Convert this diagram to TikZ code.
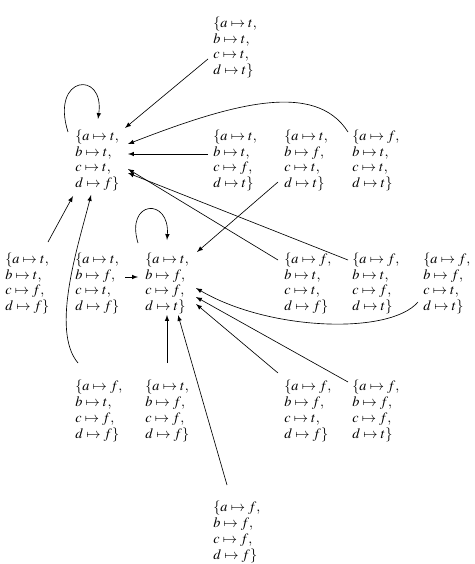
\documentclass[tikz,border=0pt]{standalone}
\usepackage{mathptmx}
\usetikzlibrary{calc,positioning,arrows}

\newcommand{\asgn}[4]{$\{a\mapsto #1,$\\$b\mapsto #2,$\\$c\mapsto #3,$\\$d\mapsto #4\}$}

\begin{document}
\begin{tikzpicture}[x=0.7pt,y=-0.7pt,>=latex,
  val/.style={anchor=west,align=left,inner sep=0pt,font=\fontsize{10}{11}\selectfont},
  edge/.style={->,line width=0.45pt}]
  \useasboundingbox (0,0) rectangle (474,564);
  % states
  \node[val] (tttt) at (213,47.5) {\asgn{t}{t}{t}{t}};
  \node[val] (tttf) at (75,160.5) {\asgn{t}{t}{t}{f}};
  \node[val] (ttft) at (213,160.5) {\asgn{t}{t}{f}{t}};
  \node[val] (tftt) at (284,160.5) {\asgn{t}{f}{t}{t}};
  \node[val] (fttt) at (352,160.5) {\asgn{f}{t}{t}{t}};

  \node[val] (ttff) at (5,283.5) {\asgn{t}{t}{f}{f}};
  \node[val] (tftf) at (75,283.5) {\asgn{t}{f}{t}{f}};
  \node[val] (tfft) at (145,283.5) {\asgn{t}{f}{f}{t}};
  \node[val] (fttf) at (284,283.5) {\asgn{f}{t}{t}{f}};
  \node[val] (ftft) at (352,283.5) {\asgn{f}{t}{f}{t}};
  \node[val] (fftt) at (423,283.5) {\asgn{f}{f}{t}{t}};

  \node[val] (ftff) at (75,411) {\asgn{f}{t}{f}{f}};
  \node[val] (tfff) at (145,411) {\asgn{t}{f}{f}{f}};
  \node[val] (fftf) at (284,411) {\asgn{f}{f}{t}{f}};
  \node[val] (ffft) at (352,411) {\asgn{f}{f}{f}{t}};

  \node[val] (ffff) at (213,532) {\asgn{f}{f}{f}{f}};

  % transitions into (tttf)
  \draw[edge] ($(tttf.west)+(-7,-28.5)$) .. controls +(-18,-57) and +(7,-49) .. ($(tttf.west)+(23,-41.5)$);
  \draw[edge] ($(tttt.west)+(-5,11.5)$) -- ($(tttf.west)+(50,-32.5)$);
  \draw[edge] ($(fttt.west)+(-4,-28.5)$) .. controls +(-33,-52) and +(103,-40) .. ($(tttf.west)+(53,-16.5)$);
  \draw[edge] ($(ttft.west)+(-5,-6.5)$) -- ($(tttf.west)+(53,-6.5)$);
  \draw[edge] ($(fttf.west)+(-6,-23.5)$) -- ($(tttf.west)+(53,8.5)$);
  \draw[edge] ($(ftft.west)+(-4,-23.5)$) -- ($(tttf.west)+(53,12.5)$);
  \draw[edge] ($(ttff.west)+(43,-41.5)$) -- ($(tttf.west)+(-2,35.5)$);
  \draw[edge] ($(ftff.west)+(3,-48)$) .. controls +(-28,-33) and +(-12,48) .. ($(tttf.west)+(16,34.5)$);

  % transitions into (tfft)
  \draw[edge] ($(tfft.west)+(-7,-40.5)$) .. controls +(-13,-43) and +(3,-43) .. ($(tfft.west)+(22,-43.5)$);
  \draw[edge] ($(tftt.west)+(-6,21.5)$) -- ($(tfft.west)+(52,-31.5)$);
  \draw[edge] ($(tftf.west)+(50,-6.5)$) -- ($(tfft.west)+(-7,-6.5)$);
  \draw[edge] ($(fftt.west)+(-5,18.5)$) .. controls +(-28,33) and +(73,43) .. ($(tfft.west)+(51,4.5)$);
  \draw[edge] ($(ffft.west)+(-4,-29)$) -- ($(tfft.west)+(51,13.5)$);
  \draw[edge] ($(fftf.west)+(-6,-38)$) -- ($(tfft.west)+(51,20.5)$);
  \draw[edge] ($(tfff.west)+(22,-48)$) -- ($(tfft.west)+(22,31.5)$);
  \draw[edge] ($(ffff.west)+(14,-47)$) -- ($(tfft.west)+(33,31.5)$);
\end{tikzpicture}
\end{document}
